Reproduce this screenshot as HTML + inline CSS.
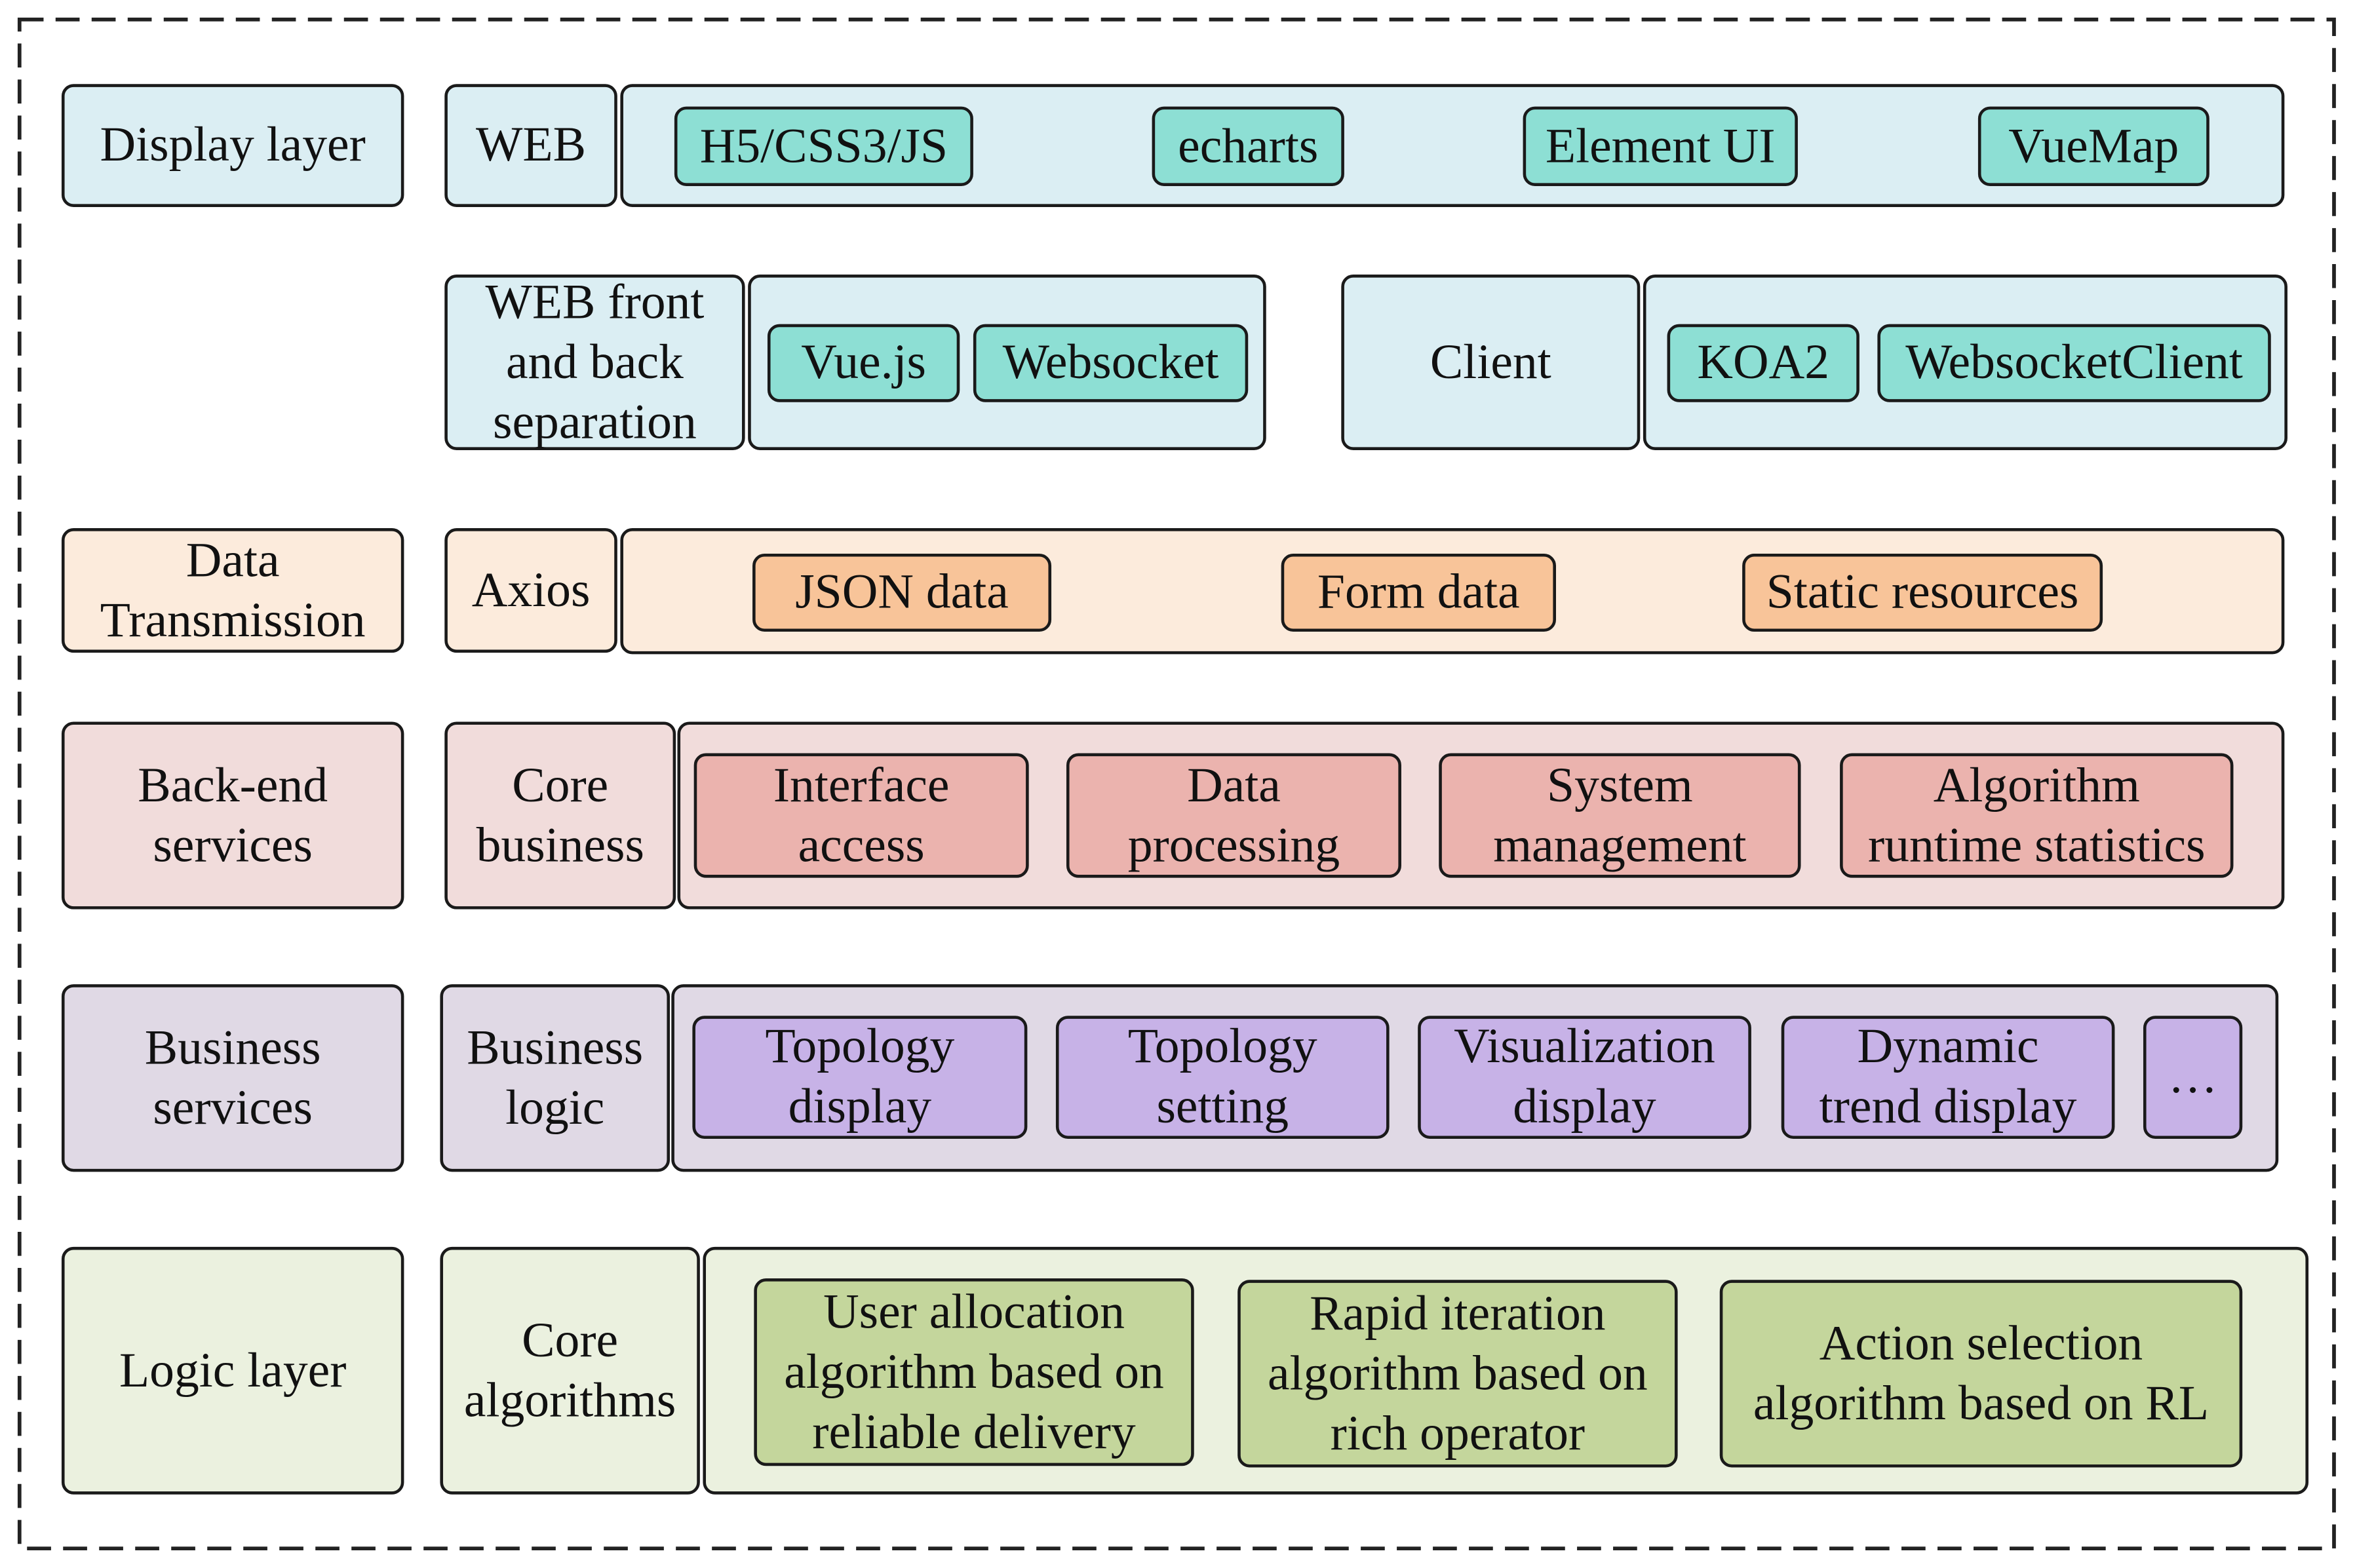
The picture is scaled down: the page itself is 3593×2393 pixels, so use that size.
<!DOCTYPE html>
<html><head><meta charset="utf-8"><style>
html,body{margin:0;padding:0;background:#fff;}
#w{width:3593px;height:2393px;overflow:hidden;position:relative;}
#s{position:absolute;left:0;top:0;width:1568px;height:1045px;transform:scale(2.2915,2.2899);transform-origin:0 0;}
.b{position:absolute;box-sizing:border-box;border:2px solid #1a1a1a;border-radius:8px;display:flex;align-items:center;justify-content:center;text-align:center;font-family:"Liberation Serif",serif;font-size:33px;line-height:40px;color:#111;white-space:nowrap;}
.bl{background:#dbeef3}.bt{background:#8ddfd4}
.ol{background:#fcebdc}.ot{background:#f8c499}
.rl{background:#f1dcdb}.rt{background:#ebb3ae}
.pl{background:#e0d9e5}.pt{background:#c7b2e7}
.gl{background:#ebf1df}.gt{background:#c4d69c}
</style></head><body><div id="w"><div id="s">
<svg style="position:absolute;left:0;top:0" width="1568" height="1045"><rect x="13" y="13" width="1541" height="1019" fill="none" stroke="#222" stroke-width="2.5" stroke-dasharray="16 8"/></svg>
<div class="b bl" style="left:41px;top:56px;width:228px;height:82px">Display layer</div>
<div class="b bl" style="left:296px;top:56px;width:115px;height:82px">WEB</div>
<div class="b bl" style="left:413px;top:56px;width:1108px;height:82px"></div>
<div class="b bt" style="left:449px;top:71px;width:199px;height:53px">H5/CSS3/JS</div>
<div class="b bt" style="left:767px;top:71px;width:128px;height:53px">echarts</div>
<div class="b bt" style="left:1014px;top:71px;width:183px;height:53px">Element UI</div>
<div class="b bt" style="left:1317px;top:71px;width:154px;height:53px">VueMap</div>
<div class="b bl" style="left:296px;top:183px;width:200px;height:117px">WEB front<br>and back<br>separation</div>
<div class="b bl" style="left:498px;top:183px;width:345px;height:117px"></div>
<div class="b bt" style="left:511px;top:216px;width:128px;height:52px">Vue.js</div>
<div class="b bt" style="left:648px;top:216px;width:183px;height:52px">Websocket</div>
<div class="b bl" style="left:893px;top:183px;width:199px;height:117px">Client</div>
<div class="b bl" style="left:1094px;top:183px;width:429px;height:117px"></div>
<div class="b bt" style="left:1110px;top:216px;width:128px;height:52px">KOA2</div>
<div class="b bt" style="left:1250px;top:216px;width:262px;height:52px">WebsocketClient</div>
<div class="b ol" style="left:41px;top:352px;width:228px;height:83px">Data<br>Transmission</div>
<div class="b ol" style="left:296px;top:352px;width:115px;height:83px">Axios</div>
<div class="b ol" style="left:413px;top:352px;width:1108px;height:84px"></div>
<div class="b ot" style="left:501px;top:369px;width:199px;height:52px">JSON data</div>
<div class="b ot" style="left:853px;top:369px;width:183px;height:52px">Form data</div>
<div class="b ot" style="left:1160px;top:369px;width:240px;height:52px">Static resources</div>
<div class="b rl" style="left:41px;top:481px;width:228px;height:125px">Back-end<br>services</div>
<div class="b rl" style="left:296px;top:481px;width:154px;height:125px">Core<br>business</div>
<div class="b rl" style="left:451px;top:481px;width:1070px;height:125px"></div>
<div class="b rt" style="left:462px;top:502px;width:223px;height:83px">Interface<br>access</div>
<div class="b rt" style="left:710px;top:502px;width:223px;height:83px">Data<br>processing</div>
<div class="b rt" style="left:958px;top:502px;width:241px;height:83px">System<br>management</div>
<div class="b rt" style="left:1225px;top:502px;width:262px;height:83px">Algorithm<br>runtime statistics</div>
<div class="b pl" style="left:41px;top:656px;width:228px;height:125px">Business<br>services</div>
<div class="b pl" style="left:293px;top:656px;width:153px;height:125px">Business<br>logic</div>
<div class="b pl" style="left:447px;top:656px;width:1070px;height:125px"></div>
<div class="b pt" style="left:461px;top:677px;width:223px;height:82px">Topology<br>display</div>
<div class="b pt" style="left:703px;top:677px;width:222px;height:82px">Topology<br>setting</div>
<div class="b pt" style="left:944px;top:677px;width:222px;height:82px">Visualization<br>display</div>
<div class="b pt" style="left:1186px;top:677px;width:222px;height:82px">Dynamic<br>trend display</div>
<div class="b pt" style="left:1427px;top:677px;width:66px;height:82px">…</div>
<div class="b gl" style="left:41px;top:831px;width:228px;height:165px">Logic layer</div>
<div class="b gl" style="left:293px;top:831px;width:173px;height:165px">Core<br>algorithms</div>
<div class="b gl" style="left:468px;top:831px;width:1069px;height:165px"></div>
<div class="b gt" style="left:502px;top:852px;width:293px;height:125px">User allocation<br>algorithm based on<br>reliable delivery</div>
<div class="b gt" style="left:824px;top:853px;width:293px;height:125px">Rapid iteration<br>algorithm based on<br>rich operator</div>
<div class="b gt" style="left:1145px;top:853px;width:348px;height:125px">Action selection<br>algorithm based on RL</div>
</div></div></body></html>
